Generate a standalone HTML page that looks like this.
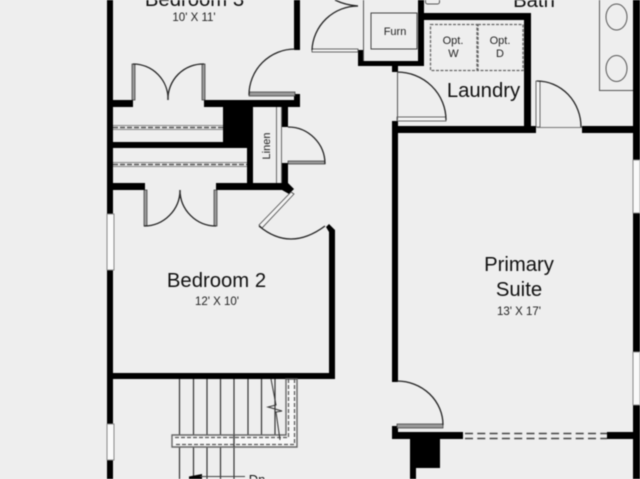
<!DOCTYPE html>
<html>
<head>
<meta charset="utf-8">
<style>
html,body{margin:0;padding:0;background:#eeeeee;width:640px;height:479px;overflow:hidden}
svg{display:block;filter:blur(0.5px)}
text{font-family:"Liberation Sans",sans-serif;fill:#111;text-anchor:middle}
.big{font-size:20.3px}
.dim{font-size:11.5px;fill:#222}
.sm{font-size:11px;fill:#222}
</style>
</head>
<body>
<svg width="640" height="479" viewBox="0 0 640 479" xmlns="http://www.w3.org/2000/svg">
<rect width="640" height="479" fill="#eeeeee"/>

<!-- black walls -->
<g fill="#000">
<rect x="107" y="0" width="6" height="479"/>
<rect x="294" y="0" width="6" height="50"/>
<rect x="107" y="100" width="26" height="7"/>
<rect x="204" y="100" width="96" height="7"/>
<rect x="294" y="94" width="6" height="13"/>
<rect x="223" y="107" width="30" height="36"/>
<rect x="113" y="142" width="134" height="6"/>
<rect x="247" y="107" width="6" height="83"/>
<rect x="113" y="183" width="32" height="7"/>
<rect x="216" y="183" width="72" height="7"/>
<rect x="282" y="107" width="6" height="20"/>
<rect x="282" y="163" width="6" height="24"/>
<polygon points="282,183 288,183 294,189 289,194 282,190"/>
<polygon points="326,227 329,224 335,230 335,379 329,379 329,232"/>
<rect x="107" y="373" width="228" height="6"/>

<rect x="418" y="0" width="6" height="66"/>
<rect x="358" y="61" width="66" height="5"/>
<rect x="358" y="50" width="6" height="16"/>
<rect x="424" y="13" width="107" height="7"/>
<rect x="524" y="13" width="7" height="118"/>
<rect x="392" y="126" width="144" height="7"/>
<rect x="582" y="126" width="52" height="7"/>
<rect x="392" y="66" width="6" height="6"/>
<rect x="392" y="121" width="6" height="261"/>
<rect x="633" y="0" width="7" height="160"/>
<rect x="633" y="213" width="7" height="139"/>
<rect x="633" y="405" width="7" height="74"/>
<rect x="392" y="432" width="71" height="7"/>
<rect x="392" y="426" width="6" height="13"/>
<rect x="607" y="432" width="33" height="7"/>
<rect x="410" y="439" width="30" height="29"/>
<rect x="410" y="468" width="6" height="11"/>
</g>

<!-- windows -->
<g fill="#fafafa" stroke="#888" stroke-width="1">
<rect x="107" y="214" width="7" height="56"/>
<rect x="107" y="424" width="7" height="36"/>
<rect x="633" y="160" width="7" height="53"/>
<rect x="633" y="352" width="7" height="53"/>
</g>

<!-- shelves -->
<g fill="none">
<path d="M113 125.500H223M113 129.500H223M113 162.500H247M113 166.500H247" stroke="#888" stroke-width="1"/>
<path d="M113 127.500H223M113 164.500H247" stroke="#555" stroke-width="1.500" stroke-dasharray="5 2"/>
</g>

<!-- linen -->
<path d="M276.500 107V183M281.500 107V183" stroke="#666" stroke-width="1" fill="none"/>

<!-- door panels -->
<g fill="#999" stroke="#333" stroke-width="0.700">
<rect x="249" y="92" width="46" height="4"/>
<rect x="132" y="64" width="3" height="36"/>
<rect x="202" y="64" width="3" height="36"/>
<rect x="144" y="190" width="3" height="36"/>
<rect x="214" y="190" width="3" height="36"/>
<rect x="288" y="161" width="37" height="3"/>
<rect x="397" y="424" width="46" height="4"/>
</g>
<g fill="#f4f4f4" stroke="#444" stroke-width="0.800">
<rect x="312" y="49" width="46" height="3"/>
<rect x="397" y="117" width="49" height="4"/>
<rect x="536" y="81" width="4" height="46"/>
<polygon points="259,225 291,192 294,194 262,228"/>
</g>

<!-- arcs -->
<g fill="none" stroke="#222" stroke-width="1.300">
<path d="M295 49A46 46 0 0 0 249 95"/>
<path d="M133 64A35 35 0 0 1 168 100"/>
<path d="M204 64A35 35 0 0 0 168 100"/>
<path d="M144 226A36 36 0 0 0 180 190"/>
<path d="M216 226A36 36 0 0 1 180 190"/>
<path d="M288 127A37 37 0 0 1 325 164"/>
<path d="M259 226Q290 252 325 226"/>
<path d="M358 6A46 46 0 0 0 312 50"/>
<path d="M335 0Q345 5 358 6"/>
<path d="M397 72A49 48 0 0 1 446 120"/>
<path d="M537 81A44 46 0 0 1 581 127"/>
<path d="M397 381A46 44 0 0 1 443 425"/>
</g>
<path d="M168 92V100M180 190V198" stroke="#333" stroke-width="1" fill="none"/>

<!-- thin lines -->
<g fill="none" stroke="#555" stroke-width="1">
<path d="M363.500 0V61M424 61"/>
<path d="M397.500 72V120"/>
<path d="M537 127.500H582" stroke="#777"/>
<rect x="371" y="13" width="46" height="36" stroke="#444" fill="none"/>
<rect x="425.500" y="-6" width="14" height="10" rx="2"/>
<path d="M599.500 0V90.500H633"/>
<ellipse cx="616.500" cy="17" rx="10.500" ry="13"/>
<ellipse cx="616.500" cy="68.500" rx="10.500" ry="13"/>
</g>

<!-- washer dryer -->
<g fill="none" stroke="#666" stroke-width="1.300" stroke-dasharray="3 1.500">
<rect x="430.500" y="24.500" width="46.500" height="46"/>
<rect x="478" y="24.500" width="45" height="46"/>
</g>

<!-- double glass door -->
<path d="M465 433.500H607M465 438.500H607" stroke="#444" stroke-width="1.500" stroke-dasharray="8 4.300" fill="none"/>

<!-- stairs -->
<g stroke="#333" stroke-width="1.200" fill="none">
<path d="M179.500 379V479M193.500 379V479M207 379V479M220.500 379V479M234 379V479M248 379V440M261.500 379V440M275 379V440"/>
</g>
<path d="M297 379V447H172V435H286V379Z" fill="#f7f7f7" stroke="#666" stroke-width="1.400"/>
<path d="M288.500 379V437.500H174.500M294.500 379V444.500H174.500" fill="none" stroke="#555" stroke-width="1.200" stroke-dasharray="4 2"/>
<path d="M234 435V447" stroke="#444" stroke-width="1.500"/>
<path d="M271 379L276 405L268 407L282 411L276 412L280 440" fill="none" stroke="#333" stroke-width="1"/>
<path d="M189 476.500L202 474V479H189Z" fill="#000"/>
<path d="M200 476.500H245" stroke="#444" stroke-width="1"/>

<!-- labels -->
<text class="big" x="194.500" y="6">Bedroom 3</text>
<text class="dim" x="194" y="21">10' X 11'</text>
<text class="big" x="216.500" y="287">Bedroom 2</text>
<text class="dim" x="217" y="305">12' X 10'</text>
<text class="big" x="519" y="271">Primary</text>
<text class="big" x="519" y="296">Suite</text>
<text class="dim" x="519" y="315">13' X 17'</text>
<text class="big" x="483.500" y="97">Laundry</text>
<text class="big" x="534" y="7">Bath</text>
<text class="sm" x="395" y="35">Furn</text>
<text class="sm" x="453" y="44">Opt.</text>
<text class="sm" x="453.500" y="57">W</text>
<text class="sm" x="500" y="44">Opt.</text>
<text class="sm" x="500" y="57">D</text>
<text class="sm" transform="translate(270,146) rotate(-90)">Linen</text>
<text x="257" y="484" style="font-size:13px">Dn</text>
</svg>
</body>
</html>
